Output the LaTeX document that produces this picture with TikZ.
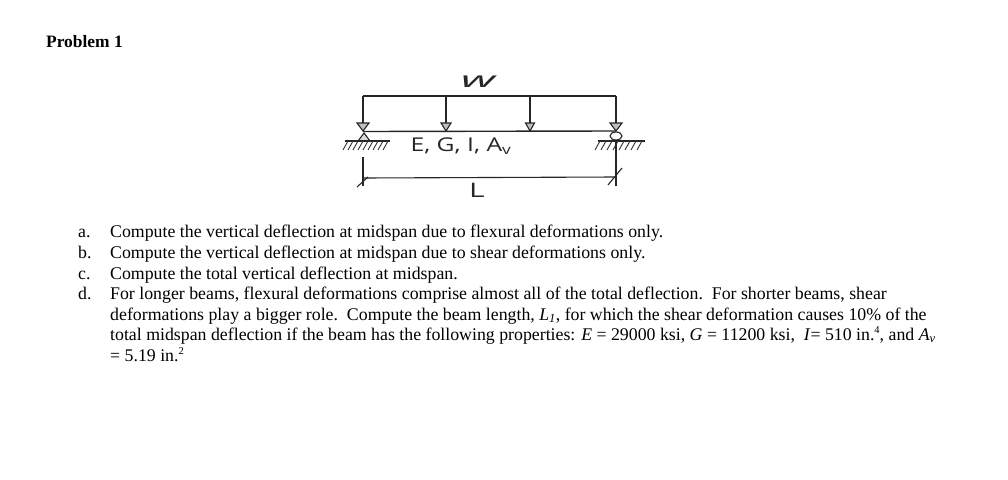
\documentclass[tikz,border=0pt]{standalone}
\usepackage{fontspec}
\setmainfont{Liberation Serif}
\newfontfamily\handfont{Open Sans}
\usetikzlibrary{positioning}
\newcommand{\supnum}[1]{\raisebox{0.36em}{\fontsize{10.5}{11}\selectfont #1}}
\tikzset{
	textline/.style={anchor=base west, inner sep=0pt, font=\fontsize{17.8}{20}\selectfont},
	handlabel/.style={inner sep=0pt, font=\handfont\fontsize{19}{22}\selectfont, text=black!85},
	hand/.style={line width=1.1pt, black!85},
	load/.style={line width=1.3pt, black!85},
	hatch/.style={line width=0.9pt, black!80},
}
\begin{document}
\begin{tikzpicture}[x=1pt,y=-1pt]
	\useasboundingbox (0,0) rectangle (1008,479);
	\fill[white] (0,0) rectangle (1008,479);
	% Title
	\node[textline, font=\bfseries\fontsize{17.4}{20}\selectfont] (title) at (46,47) {Problem 1};
	% Load
	\draw[hand] (363,96) -- (616,96);
	\foreach \x/\w in {363/6, 446/5, 530/4.5, 616/6}{
		\draw[load] (\x,96) -- (\x,131);
		\draw[hand, fill=black!25] (\x-\w,123) -- (\x+\w,123) -- (\x,131) -- cycle;
	}
	\node[handlabel, font=\handfont\itshape\fontsize{24}{24}\selectfont] (load) at (478,82) {\scalebox{2}[0.9]{w}};
	% Beam
	\draw[line width=1.4pt, black!85] (363,131.5) -- (616,131);
	% Supports
	\draw[hand, fill=black!15] (364,133) -- (358,141) -- (370,141) -- cycle;
	\draw[hand] (616,136) ellipse (6 and 4);
	\draw[hand] (345,141) -- (390,141);
	\draw[hand] (598,141) -- (645,141);
	\foreach \x in {348,353,...,390}{
		\draw[hatch] (\x,141) -- (\x-5,150);
	}
	\foreach \x in {600,606,...,645}{
		\draw[hatch] (\x,141) -- (\x-5,150);
	}
	% Section label
	\node[handlabel] (props) at (461,146) {\scalebox{1.3}[1]{E, G, I, A\textsubscript{v}}};
	% Dimension
	\draw[hand] (363,157) -- (363,186);
	\draw[hand] (616,142) -- (616,186);
	\draw[hand] (363,178) -- (616,177);
	\draw[hand] (357,187) -- (368,177);
	\draw[hand] (608,185) -- (622,168);
	\node[handlabel, font=\handfont\fontsize{20}{24}\selectfont] (span) at (477,190) {\scalebox{1.5}[1]{L}};
	% Items
	\node[textline] (a) at (78,237) {a.};
	\node[textline] (atext) at (110,237) {Compute the vertical deflection at midspan due to flexural deformations only.};
	\node[textline] (b) at (78,258) {b.};
	\node[textline] (btext) at (110,258) {Compute the vertical deflection at midspan due to shear deformations only.};
	\node[textline] (c) at (78,279) {c.};
	\node[textline] (ctext) at (110,279) {Compute the total vertical deflection at midspan.};
	\node[textline] (d) at (78,299) {d.};
	\node[textline] (dtexta) at (110,299) {For longer beams, flexural deformations comprise almost all of the total deflection.\ \ For shorter beams, shear};
	\node[textline] (dtextb) at (110,320) {deformations play a bigger role.\ \ Compute the beam length, \textit{L\textsubscript{1}}, for which the shear deformation causes 10\% of the};
	\node[textline] (dtextc) at (110,340) {total midspan deflection if the beam has the following properties: \textit{E} = 29000 ksi, \textit{G} = 11200 ksi,\ \ \textit{I}= 510 in.\supnum{4}, and \textit{A\textsubscript{v}}};
	\node[textline] (dtextd) at (110,361) {= 5.19 in.\supnum{2}};
\end{tikzpicture}
\end{document}
